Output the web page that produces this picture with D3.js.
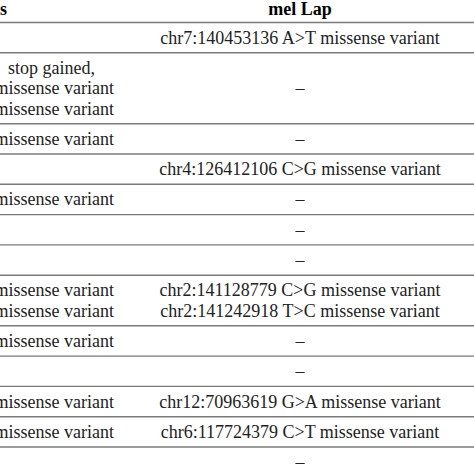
<!DOCTYPE html>
<html><head><meta charset="utf-8">
<script src="https://cdn.jsdelivr.net/npm/d3@7"></script>
<style>body{margin:0;background:#fff;overflow:hidden}</style>
</head><body><svg id="t" width="474" height="474"></svg>
<script>
// table rows: left column (cropped in the picture) and "mel Lap" column
const leftCells = [
  [],
  ["stop gained,", "missense variant", "missense variant"],
  ["missense variant"],
  [],
  ["missense variant"],
  [],
  [],
  ["missense variant", "missense variant"],
  ["missense variant"],
  [],
  ["missense variant"],
  ["missense variant"],
  []
];
const lapCells = [
  ["chr7:140453136 A>T missense variant"],
  ["–"],
  ["–"],
  ["chr4:126412106 C>G missense variant"],
  ["–"],
  ["–"],
  ["–"],
  ["chr2:141128779 C>G missense variant", "chr2:141242918 T>C missense variant"],
  ["–"],
  ["–"],
  ["chr12:70963619 G>A missense variant"],
  ["chr6:117724379 C>T missense variant"],
  ["–"]
];
const headers = ["Mutations", "mel Lap"];

const svg = d3.select("#t");
const font = "'Liberation Serif', serif";
const fs = 18;
const lineH = 20.3;

// cumulative row positions
const heights = leftCells.map((l, i) => 10 + lineH * Math.max(l.length, lapCells[i].length, 1));
const tops = [];
heights.reduce((acc, h) => { tops.push(acc); return acc + h; }, 0);
const total = d3.sum(heights);
const y = d3.scaleLinear().domain([0, total]).range([22.5, 22.5 + total]);

// header
svg.append("text").attr("x", 7).attr("y", 15).attr("text-anchor", "end")
  .attr("font-family", font).attr("font-weight", "bold").attr("font-size", fs).text(headers[0]);
svg.append("text").attr("x", 300).attr("y", 15).attr("text-anchor", "middle")
  .attr("font-family", font).attr("font-weight", "bold").attr("font-size", fs).text(headers[1]);

// rule lines
const rules = [0].concat(tops.slice(1));
svg.selectAll(".rule").data(rules).join("line").attr("class", "rule")
  .attr("x1", 0).attr("x2", 474)
  .attr("y1", d => y(d)).attr("y2", d => y(d))
  .attr("stroke", "#7a7a7a").attr("stroke-width", 1.4);

const drawCol = (cells, x, anchor) => {
  cells.forEach((lines, i) => {
    const mid = y(tops[i] + heights[i] / 2);
    lines.forEach((t, j) => {
      svg.append("text")
        .attr("x", anchor === "end" && t.startsWith("stop") ? 95 : x)
        .attr("y", mid + (j - (lines.length - 1) / 2) * lineH + 6)
        .attr("text-anchor", anchor)
        .attr("font-family", font).attr("font-size", fs).attr("fill", "#222")
        .text(t);
    });
  });
};
drawCol(leftCells, 114, "end");
drawCol(lapCells, 300, "middle");
</script></body></html>
